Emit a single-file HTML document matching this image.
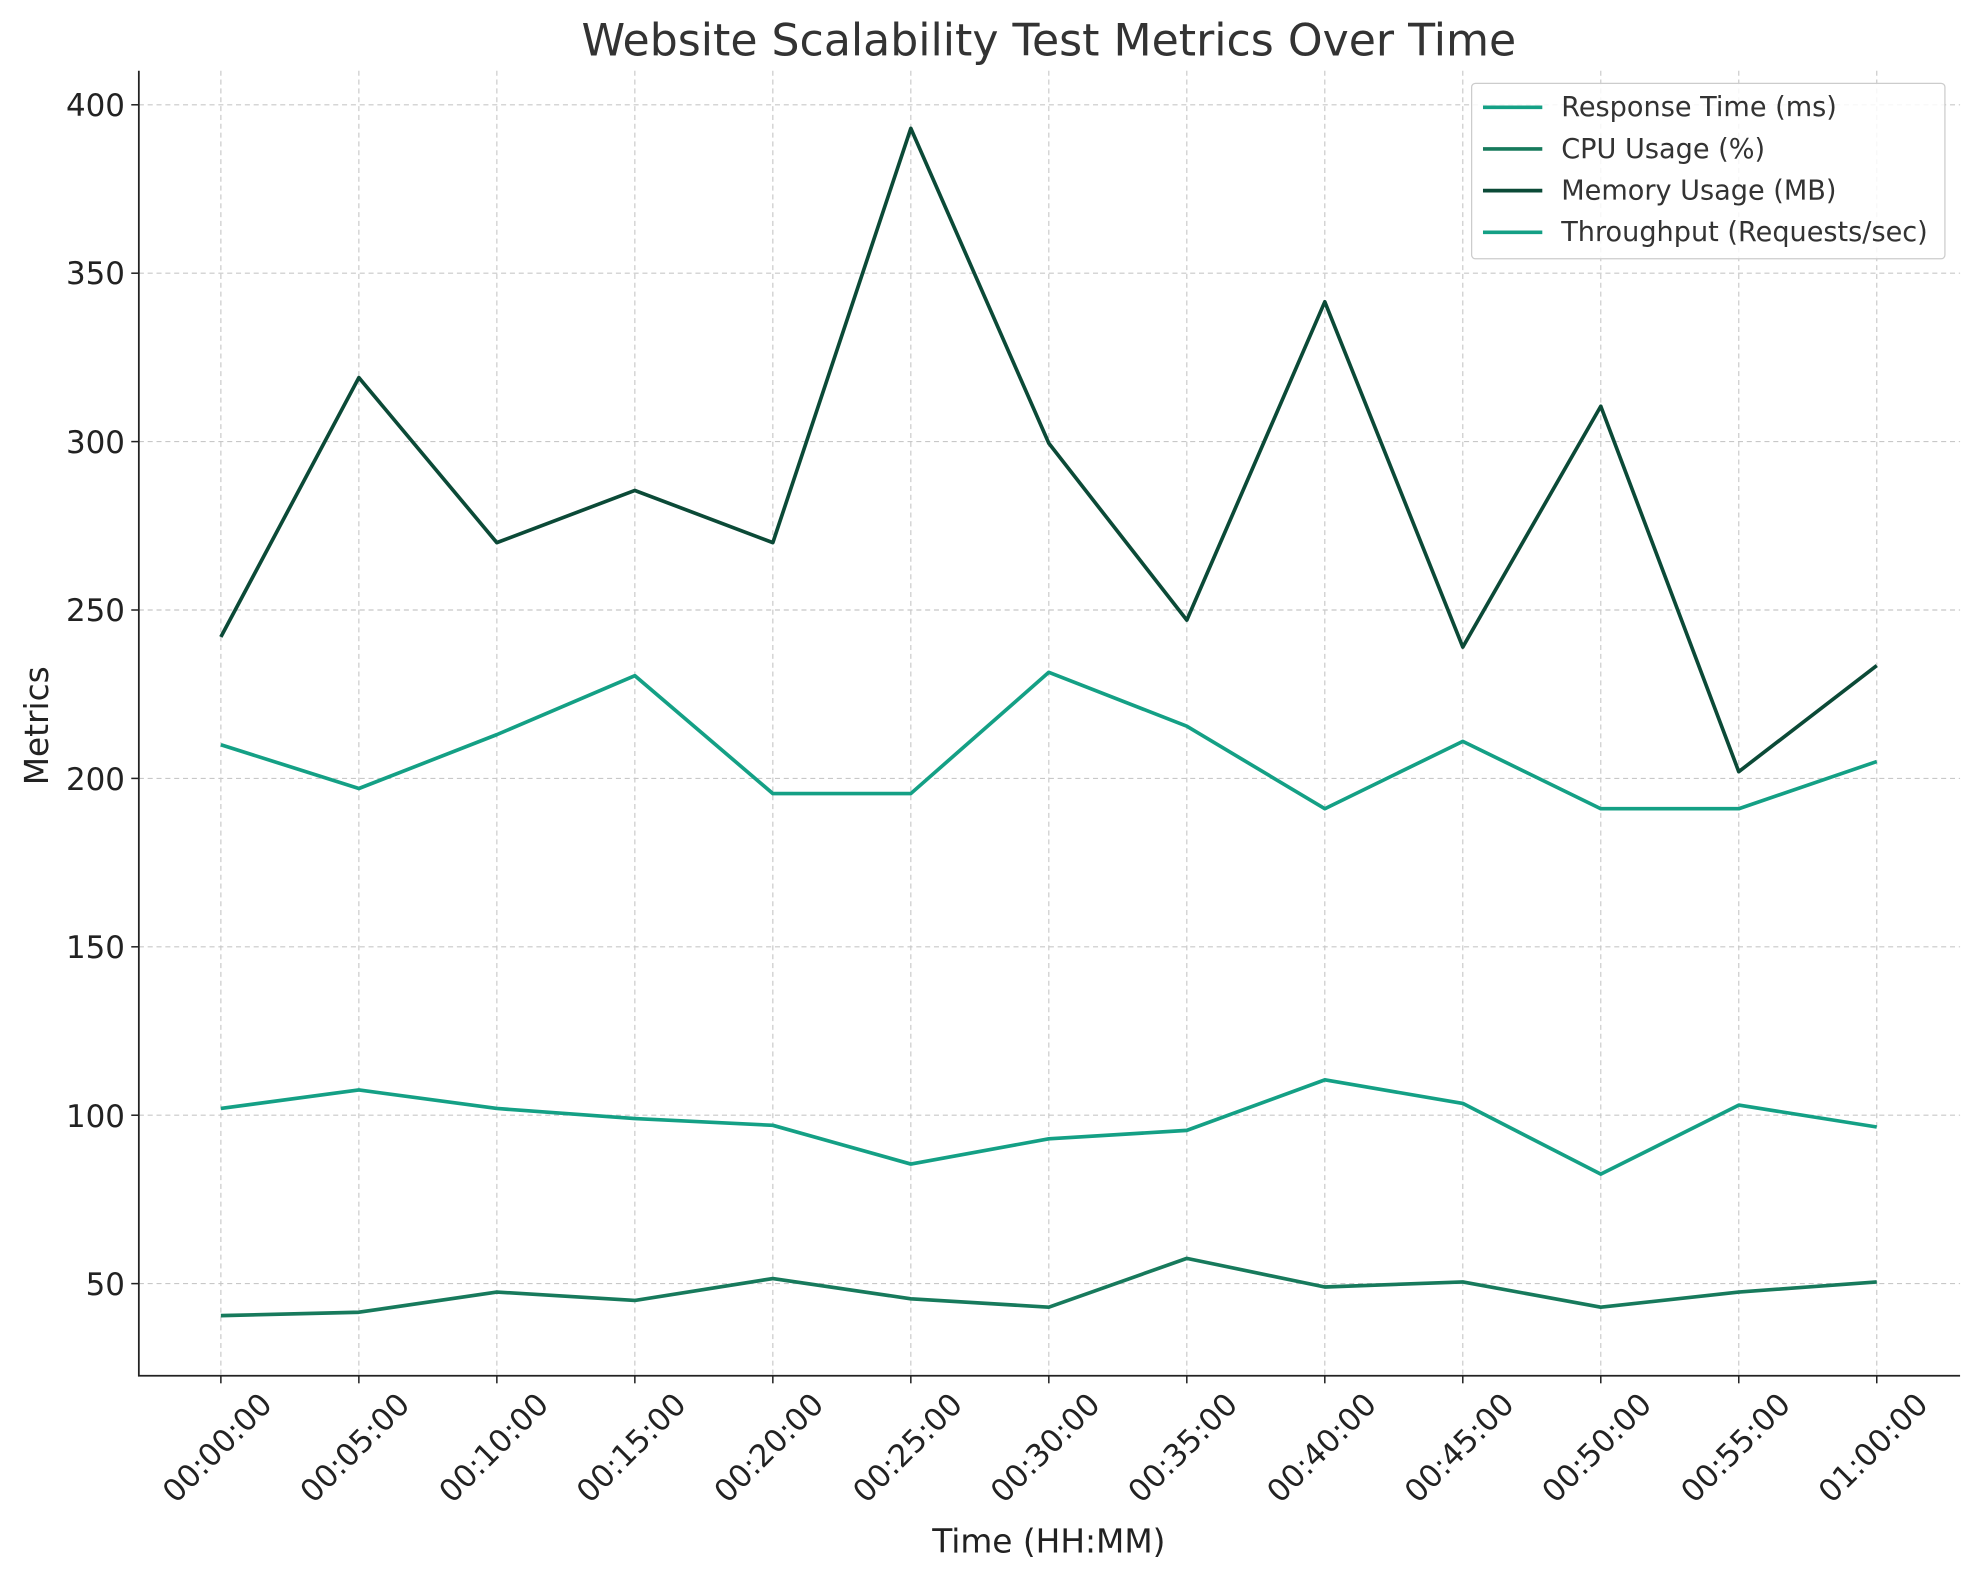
<!DOCTYPE html>
<html><head><meta charset="utf-8"><style>
html,body{margin:0;padding:0;background:#fff;}
svg{display:block;font-family:"DejaVu Sans","Liberation Sans",sans-serif;}
</style></head><body>
<svg id="c" width="1979" height="1579" viewBox="0 0 1568 1251" xmlns="http://www.w3.org/2000/svg">
<rect width="1568" height="1251" fill="#fff"/>
<g id="grid" stroke="#c8c8c8" stroke-width="0.9" stroke-dasharray="4,3"></g>
<g id="lines" fill="none" stroke-width="2.9" stroke-linejoin="round"></g>
<path d="M110,56 V1090 H1553" fill="none" stroke="#222" stroke-width="1.4"/>
<g id="ticks" stroke="#222" stroke-width="1.2"></g>
<g font-size="24.5" fill="#222" text-anchor="end">
<text x="99" y="92">400</text><text x="99" y="225">350</text><text x="99" y="359">300</text>
<text x="99" y="492">250</text><text x="99" y="626">200</text><text x="99" y="759">150</text>
<text x="99" y="893">100</text><text x="99" y="1026">50</text>
</g>
<g font-size="24.5" fill="#222" text-anchor="middle">
<text transform="translate(172,1147) rotate(-45)" dy="0.35em">00:00:00</text>
<text transform="translate(281,1147) rotate(-45)" dy="0.35em">00:05:00</text>
<text transform="translate(391,1147) rotate(-45)" dy="0.35em">00:10:00</text>
<text transform="translate(500,1147) rotate(-45)" dy="0.35em">00:15:00</text>
<text transform="translate(609,1147) rotate(-45)" dy="0.35em">00:20:00</text>
<text transform="translate(719,1147) rotate(-45)" dy="0.35em">00:25:00</text>
<text transform="translate(828,1147) rotate(-45)" dy="0.35em">00:30:00</text>
<text transform="translate(937,1147) rotate(-45)" dy="0.35em">00:35:00</text>
<text transform="translate(1047,1147) rotate(-45)" dy="0.35em">00:40:00</text>
<text transform="translate(1156,1147) rotate(-45)" dy="0.35em">00:45:00</text>
<text transform="translate(1265,1147) rotate(-45)" dy="0.35em">00:50:00</text>
<text transform="translate(1375,1147) rotate(-45)" dy="0.35em">00:55:00</text>
<text transform="translate(1484,1147) rotate(-45)" dy="0.35em">01:00:00</text>
</g>
<text x="831" y="1230" font-size="26" fill="#222" text-anchor="middle">Time (HH:MM)</text>
<text transform="translate(38,575) rotate(-90)" font-size="26" fill="#222" text-anchor="middle">Metrics</text>
<text x="831" y="44" font-size="35" fill="#333" text-anchor="middle">Website Scalability Test Metrics Over Time</text>
<rect x="1166" y="66" width="375" height="139" fill="#fff" fill-opacity="0.85" stroke="#ccc" stroke-width="1" rx="3"/>
<g stroke-width="2.9">
<line x1="1175" y1="85" x2="1222" y2="85" stroke="#14a085"/>
<line x1="1175" y1="118" x2="1222" y2="118" stroke="#177a5c"/>
<line x1="1175" y1="151" x2="1222" y2="151" stroke="#0b4a37"/>
<line x1="1175" y1="184" x2="1222" y2="184" stroke="#14a085"/>
</g>
<g font-size="21.5" fill="#333">
<text x="1237" y="92">Response Time (ms)</text>
<text x="1237" y="125">CPU Usage (%)</text>
<text x="1237" y="158">Memory Usage (MB)</text>
<text x="1237" y="191">Throughput (Requests/sec)</text>
</g>
</svg>
<script>
var X=function(i){return 175+i*109.333;},Y=function(v){return 1017-(v-50)*2.6686;};
var ns="http://www.w3.org/2000/svg";
var g=document.getElementById('grid'),t=document.getElementById('ticks'),L=document.getElementById('lines');
function ln(p,a,b,c,d){var l=document.createElementNS(ns,'line');l.setAttribute('x1',a);l.setAttribute('y1',b);l.setAttribute('x2',c);l.setAttribute('y2',d);p.appendChild(l);}
for(var i=0;i<13;i++){ln(g,X(i),56,X(i),1090);ln(t,X(i),1090,X(i),1096);}
for(var v=50;v<=400;v+=50){ln(g,110,Y(v),1553,Y(v));ln(t,104,Y(v),110,Y(v));}
var S=[
["#14a085",[210,197,213,230.5,195.5,195.5,231.5,215.5,191,211,191,191,205]],
["#177a5c",[40.5,41.5,47.5,45,51.5,45.5,43,57.5,49,50.5,43,47.5,50.5]],
["#0b4a37",[242,319,270,285.5,270,393,299.5,247,341.5,239,310.5,202,233.5]],
["#14a085",[102,107.5,102,99,97,85.5,93,95.5,110.5,103.5,82.5,103,96.5]]];
S.forEach(function(s){var p=document.createElementNS(ns,'polyline');p.setAttribute('stroke',s[0]);
p.setAttribute('points',s[1].map(function(v,i){return X(i)+','+Y(v);}).join(' '));L.appendChild(p);});
</script>
</body></html>
